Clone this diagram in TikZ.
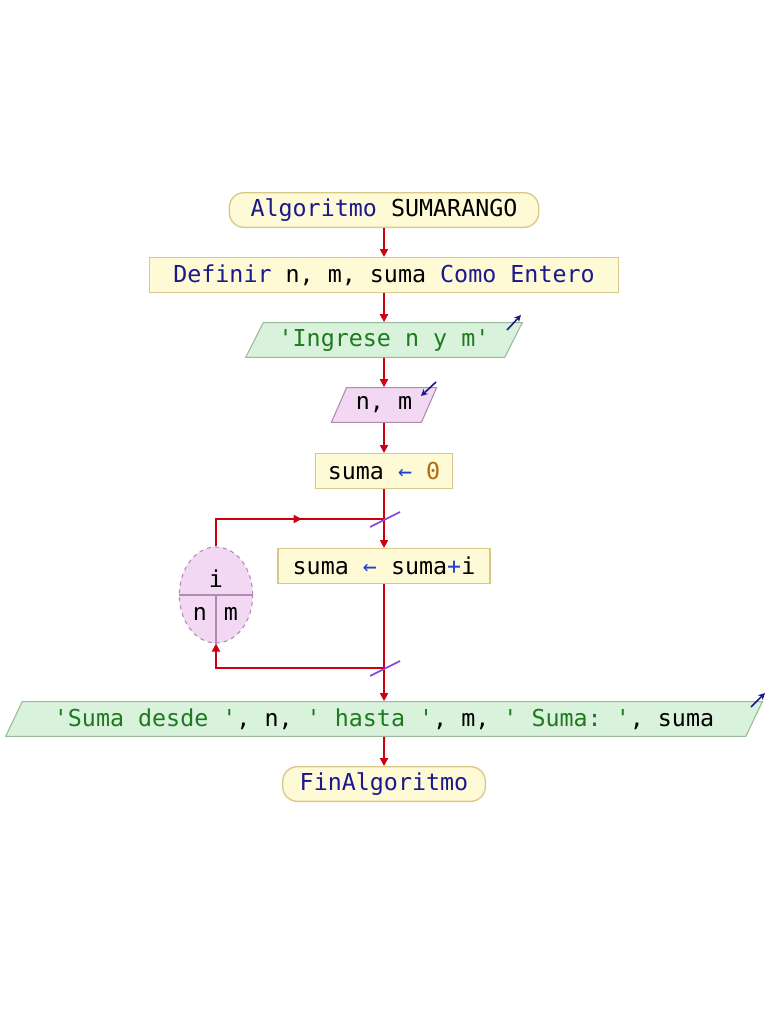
\documentclass[tikz,border=0pt]{standalone}
\usepackage{fontspec}
\setmonofont{DejaVu Sans Mono}
\usetikzlibrary{shapes.geometric,arrows.meta,calc}
\definecolor{kw}{HTML}{1A1A8C}
\definecolor{str}{HTML}{1E7A1E}
\definecolor{num}{HTML}{B06A10}
\definecolor{op}{HTML}{2040D0}
\definecolor{ln}{HTML}{CC0010}
\definecolor{yfill}{HTML}{FFFAD6}
\definecolor{yborder}{HTML}{D8C88A}
\definecolor{gfill}{HTML}{D9F2DC}
\definecolor{gborder}{HTML}{9AB89C}
\definecolor{pfill}{HTML}{F2D8F2}
\definecolor{pborder}{HTML}{B08AB0}
\definecolor{slash}{HTML}{8844DD}
\tikzset{
  base/.style={font=\ttfamily\fontsize{17.5}{19}\selectfont, inner sep=2pt, minimum height=26pt},
  startbox/.style={base, rounded corners=11pt, draw=yborder, fill=yfill, line width=1pt},
  procbox/.style={base, draw=yborder, fill=yfill, line width=1pt},
  outbox/.style={base, trapezium, trapezium left angle=60, trapezium right angle=120, trapezium stretches=true, draw=gborder, fill=gfill, line width=0.8pt},
  inbox/.style={base, trapezium, trapezium left angle=60, trapezium right angle=120, trapezium stretches=true, draw=pborder, fill=pfill, line width=0.8pt},
  flow/.style={ln, line width=1.4pt},
  arr/.style={flow, -{Triangle[length=6pt,width=6pt]}},
  ioarrow/.style={kw, line width=1.2pt, -{Stealth[length=5pt,width=5pt]}},
  slashmark/.style={slash, line width=1.3pt}
}
\begin{document}
\begin{tikzpicture}[x=0.75pt,y=-0.75pt]
\useasboundingbox (0,0) rectangle (768,1024);
\node[startbox, minimum width=232pt] (start) at (384,210) {\textcolor{kw}{Algoritmo} SUMARANGO};
\node[procbox, minimum width=352pt] (def) at (384,275) {\textcolor{kw}{Definir} n, m, suma \textcolor{kw}{Como Entero}};
\node[outbox, minimum width=208pt] (ing) at (384,340) {\textcolor{str}{'Ingrese n y m'}};
\node[inbox, minimum width=79pt] (lee) at (384,405) {n, m};
\node[procbox, minimum width=103pt] (s0) at (384,471) {suma \textcolor{op}{←} \textcolor{num}{0}};
\node[procbox, minimum width=159pt] (body) at (384,566) {suma \textcolor{op}{←} suma\textcolor{op}{+}i};
\node[ellipse, draw=pborder, fill=pfill, dashed, line width=0.8pt, minimum width=55pt, minimum height=72pt, inner sep=0pt] (ell) at (216,595) {};
\draw[pborder, line width=0.8pt] (ell.west) -- (ell.east);
\draw[pborder, line width=0.8pt] (ell.center) -- (ell.south);
\node[base, minimum height=0pt] (vi) at (216,579) {i};
\node[base, minimum height=0pt] (vn) at (200,614) {n};
\node[base, minimum height=0pt] (vm) at (231,614) {m};
\node[outbox, minimum width=570pt] (out) at (384,719) {\textcolor{str}{'Suma desde '}, n, \textcolor{str}{' hasta '}, m, \textcolor{str}{' Suma: '}, suma};
\node[startbox, minimum width=152pt] (fin) at (384,784) {\textcolor{kw}{FinAlgoritmo}};
\coordinate (c1) at (384,519);
\coordinate (c2) at (384,668);
\draw[arr] (start) -- (def);
\draw[arr] (def) -- (ing);
\draw[arr] (ing) -- (lee);
\draw[arr] (lee) -- (s0);
\draw[flow] (s0) -- (c1);
\draw[arr] (c1) -- (body);
\draw[flow] (body) -- (c2);
\draw[arr] (c2) -- (out);
\draw[arr] (out) -- (fin);
\draw[flow] (ell.north) |- (c1);
\draw[arr] (ell.north |- c1) -- ($(ell.north |- c1)!0.51!(c1)$);
\draw[arr] (c2) -| (ell.south);
\draw[slashmark] ($(c1)+(-14,8)$) -- ($(c1)+(16,-7)$);
\draw[slashmark] ($(c2)+(-14,8)$) -- ($(c2)+(16,-7)$);
\draw[ioarrow] (507,330) -- (521,315);
\draw[ioarrow] (436,382) -- (421,396);
\draw[ioarrow] (751,707) -- (765,693);
\end{tikzpicture}
\end{document}
